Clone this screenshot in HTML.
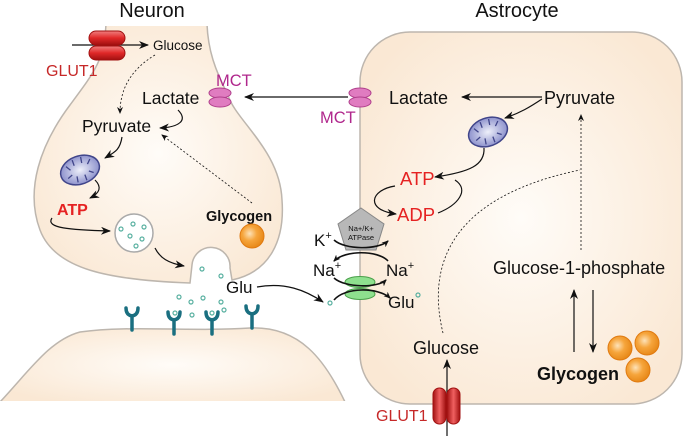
<!DOCTYPE html>
<html><head><meta charset="utf-8"><style>html,body{margin:0;padding:0;background:#fff}svg{display:block}text{font-family:"Liberation Sans","DejaVu Sans",sans-serif}</style></head><body>
<svg width="685" height="436" viewBox="0 0 685 436" xmlns="http://www.w3.org/2000/svg">
<defs>
<radialGradient id="cell" cx="0.5" cy="0.5" r="0.6"><stop offset="0" stop-color="#fffcf8"/><stop offset="1" stop-color="#fae8d4"/></radialGradient>
<radialGradient id="org" cx="0.4" cy="0.4" r="0.6"><stop offset="0" stop-color="#fde2b8"/><stop offset="0.5" stop-color="#f6a53c"/><stop offset="1" stop-color="#e88a1a"/></radialGradient>
<radialGradient id="mit" cx="0.5" cy="0.5" r="0.6"><stop offset="0" stop-color="#eef0fa"/><stop offset="1" stop-color="#7b80c4"/></radialGradient>
<linearGradient id="red" x1="0" y1="0" x2="0" y2="1"><stop offset="0" stop-color="#f08080"/><stop offset="0.5" stop-color="#e02828"/><stop offset="1" stop-color="#a01010"/></linearGradient>
<linearGradient id="redh" x1="0" y1="0" x2="1" y2="0"><stop offset="0" stop-color="#a01010"/><stop offset="0.5" stop-color="#f06060"/><stop offset="1" stop-color="#a01010"/></linearGradient>
<marker id="ar" markerWidth="10" markerHeight="8" refX="9" refY="4" orient="auto" markerUnits="userSpaceOnUse"><path d="M0,0 L10,4 L0,8 L3,4z" fill="#111"/></marker>
<marker id="as" markerWidth="7" markerHeight="6" refX="6" refY="3" orient="auto" markerUnits="userSpaceOnUse"><path d="M0,0 L7,3 L0,6 L2,3z" fill="#111"/></marker>
<g id="mito"><ellipse rx="20" ry="14" fill="url(#mit)" stroke="#40458a" stroke-width="1.5"/><path d="M-12,-8 l3,5 M-4,-12 l0,6 M5,-12 l-1,6 M13,-7 l-4,4 M-14,4 l5,-2 M-6,11 l1,-6 M3,12 l0,-6 M12,7 l-4,-3" stroke="#40458a" stroke-width="1.3"/></g>
<g id="rec"><path d="M-6,-10 q0,7 6,8 q6,-1 6,-8 M0,-2 v14" stroke="#1a6f80" stroke-width="3.5" fill="none" stroke-linecap="round"/></g>
</defs>
<path d="M106,24 C104,60 96,70 70,105 C40,145 25,190 40,230 C55,270 110,280 190,283 L192,265 A10,10 0 1 1 230,268 L232,280 C270,272 285,240 282,200 C280,150 235,120 228,95 C215,70 208,50 207,24 Z" fill="url(#cell)" stroke="#bdb6ae" stroke-width="1.5"/>
<rect x="100" y="18" width="115" height="8" fill="#fff"/>
<path d="M0,402 C30,370 50,340 80,332 C130,325 190,332 250,328 C300,326 325,360 345,402 Z" fill="url(#cell)" stroke="#bdb6ae" stroke-width="1.5"/>
<rect x="0" y="401" width="350" height="6" fill="#fff"/>
<rect x="360" y="32" width="322" height="372" rx="50" fill="url(#cell)" stroke="#bdb6ae" stroke-width="1.5"/>
<text x="152" y="17" font-size="20" text-anchor="middle" fill="#111">Neuron</text>
<text x="517" y="17" font-size="20" text-anchor="middle" fill="#111">Astrocyte</text>
<line x1="72" y1="45" x2="148" y2="45" stroke="#111" stroke-width="1.2" marker-end="url(#ar)"/>
<rect x="89" y="31" width="36" height="14" rx="7" fill="url(#red)" stroke="#a01010"/>
<rect x="89" y="46" width="36" height="14" rx="7" fill="url(#red)" stroke="#a01010"/>
<text x="153" y="50" font-size="13.5" fill="#111">Glucose</text>
<text x="46" y="76" font-size="16" fill="#c62828">GLUT1</text>
<path d="M155,55 C130,70 120,90 120,113" stroke="#111" stroke-width="0.8" stroke-dasharray="2,2" fill="none" marker-end="url(#as)"/>
<ellipse cx="220" cy="93" rx="11" ry="5" fill="#e07cc0" stroke="#b0408c"/>
<ellipse cx="220" cy="102" rx="11" ry="5" fill="#e07cc0" stroke="#b0408c"/>
<text x="216" y="86" font-size="16.5" fill="#b0278c">MCT</text>
<text x="142" y="104" font-size="17.5" fill="#111">Lactate</text>
<line x1="348" y1="97" x2="245" y2="97" stroke="#111" stroke-width="1.2" marker-end="url(#ar)"/>
<ellipse cx="360" cy="93" rx="11" ry="5" fill="#e07cc0" stroke="#b0408c"/>
<ellipse cx="360" cy="102" rx="11" ry="5" fill="#e07cc0" stroke="#b0408c"/>
<text x="320" y="123" font-size="16.5" fill="#b0278c">MCT</text>
<path d="M178,110 C188,120 180,127 160,128" stroke="#111" stroke-width="1.2" fill="none" marker-end="url(#ar)"/>
<text x="82" y="132" font-size="17.5" fill="#111">Pyruvate</text>
<path d="M252,203 L162,135" stroke="#111" stroke-width="0.8" stroke-dasharray="2,2" fill="none" marker-end="url(#as)"/>
<path d="M122,137 C120,150 115,152 105,158" stroke="#111" stroke-width="1.2" fill="none" marker-end="url(#ar)"/>
<use href="#mito" transform="translate(80,170) rotate(-20)"/>
<path d="M95,180 C102,187 100,193 90,198" stroke="#111" stroke-width="1.2" fill="none" marker-end="url(#ar)"/>
<text x="57" y="215" font-size="16" font-weight="bold" fill="#e52222">ATP</text>
<path d="M52,218 C45,228 70,230 110,231" stroke="#111" stroke-width="1.2" fill="none" marker-end="url(#ar)"/>
<circle cx="134" cy="233" r="19" fill="#fff" stroke="#aaa" stroke-width="1.5"/>
<g fill="none" stroke="#58b0a0" stroke-width="1.2"><circle cx="121" cy="229" r="2"/><circle cx="133" cy="224" r="2"/><circle cx="144" cy="227" r="2"/><circle cx="130" cy="236" r="2"/><circle cx="142" cy="239" r="2"/><circle cx="136" cy="246" r="2"/>
<circle cx="202" cy="269" r="2"/><circle cx="221" cy="276" r="2"/><circle cx="179" cy="297" r="2"/><circle cx="191" cy="302" r="2"/><circle cx="203" cy="298" r="2"/><circle cx="221" cy="302" r="2"/><circle cx="175" cy="313" r="2"/><circle cx="192" cy="315" r="2"/><circle cx="212" cy="313" r="2"/><circle cx="224" cy="310" r="2"/><circle cx="330" cy="303" r="2"/><circle cx="418" cy="295" r="2"/></g>
<path d="M155,248 C160,258 168,263 184,266" stroke="#111" stroke-width="1.2" fill="none" marker-end="url(#ar)"/>
<text x="206" y="221" font-size="14.5" font-weight="bold" fill="#111">Glycogen</text>
<circle cx="252" cy="236" r="12" fill="url(#org)" stroke="#e07a10"/>
<text x="226" y="293" font-size="17" fill="#111">Glu</text>
<path d="M257,287 C285,282 305,290 323,302" stroke="#111" stroke-width="1.2" fill="none" marker-end="url(#ar)"/>
<use href="#rec" transform="translate(132,318)"/>
<use href="#rec" transform="translate(174,322)"/>
<use href="#rec" transform="translate(212,322)"/>
<use href="#rec" transform="translate(252,316)"/>
<text x="389" y="104" font-size="18" fill="#111">Lactate</text>
<line x1="542" y1="97" x2="462" y2="97" stroke="#111" stroke-width="1.2" marker-end="url(#ar)"/>
<text x="544" y="104" font-size="18" fill="#111">Pyruvate</text>
<path d="M542,99 C530,107 520,113 505,118" stroke="#111" stroke-width="1.2" fill="none" marker-end="url(#ar)"/>
<use href="#mito" transform="translate(488,132) rotate(-20)"/>
<path d="M484,148 C485,165 470,172 435,177" stroke="#111" stroke-width="1.2" fill="none" marker-end="url(#ar)"/>
<text x="400" y="185" font-size="18.5" fill="#e52222">ATP</text>
<text x="397" y="221" font-size="18.5" fill="#e52222">ADP</text>
<path d="M438,213 C458,205 470,190 455,180" stroke="#111" stroke-width="1.2" fill="none"/>
<path d="M395,186 C370,190 365,210 396,214" stroke="#111" stroke-width="1.2" fill="none" marker-end="url(#ar)"/>
<path d="M361,208 L384,224 L376,250 L346,250 L338,224 Z" fill="#b8b8b8" stroke="#888"/>
<text x="361" y="231" font-size="7.5" text-anchor="middle" fill="#111">Na+/K+</text>
<text x="361" y="240" font-size="7.5" text-anchor="middle" fill="#111">ATPase</text>
<text x="314" y="246" font-size="17" fill="#111">K<tspan font-size="11" dy="-7">+</tspan></text>
<text x="313" y="276" font-size="17" fill="#111">Na<tspan font-size="11" dy="-7">+</tspan></text>
<text x="386" y="276" font-size="17" fill="#111">Na<tspan font-size="11" dy="-7">+</tspan></text>
<path d="M334,240 C345,250 378,250 388,241" stroke="#111" stroke-width="1.6" fill="none" marker-end="url(#as)"/>
<path d="M388,261 C378,250 345,250 334,261" stroke="#111" stroke-width="1.6" fill="none" marker-end="url(#as)"/>
<ellipse cx="360" cy="282" rx="15" ry="5.5" fill="#8ee08e" stroke="#4aa04a"/>
<ellipse cx="360" cy="294" rx="15" ry="5.5" fill="#8ee08e" stroke="#4aa04a"/>
<path d="M334,278 C345,288 378,288 386,280" stroke="#111" stroke-width="1.6" fill="none" marker-end="url(#as)"/>
<path d="M334,300 C345,287 378,287 390,298" stroke="#111" stroke-width="1.6" fill="none" marker-end="url(#as)"/>
<text x="388" y="308" font-size="17" fill="#111">Glu</text>
<path d="M443,333 C430,280 435,200 580,170" stroke="#111" stroke-width="0.8" stroke-dasharray="2,2" fill="none"/>
<line x1="581" y1="250" x2="581" y2="115" stroke="#111" stroke-width="0.8" stroke-dasharray="2,2" marker-end="url(#as)"/>
<text x="493" y="274" font-size="18" fill="#111">Glucose-1-phosphate</text>
<line x1="574" y1="352" x2="574" y2="290" stroke="#111" stroke-width="1.2" marker-end="url(#ar)"/>
<line x1="593" y1="290" x2="593" y2="352" stroke="#111" stroke-width="1.2" marker-end="url(#ar)"/>
<text x="413" y="354" font-size="18" fill="#111">Glucose</text>
<text x="537" y="380" font-size="18" font-weight="bold" fill="#111">Glycogen</text>
<circle cx="620" cy="348" r="12" fill="url(#org)" stroke="#e07a10"/>
<circle cx="647" cy="343" r="12" fill="url(#org)" stroke="#e07a10"/>
<circle cx="638" cy="370" r="12" fill="url(#org)" stroke="#e07a10"/>
<line x1="447" y1="436" x2="447" y2="360" stroke="#111" stroke-width="1.2" marker-end="url(#ar)"/>
<rect x="433" y="388" width="13" height="36" rx="6.5" fill="url(#redh)" stroke="#a01010"/>
<rect x="447" y="388" width="13" height="36" rx="6.5" fill="url(#redh)" stroke="#a01010"/>
<text x="376" y="421" font-size="16" fill="#c62828">GLUT1</text>
</svg>
</body></html>
